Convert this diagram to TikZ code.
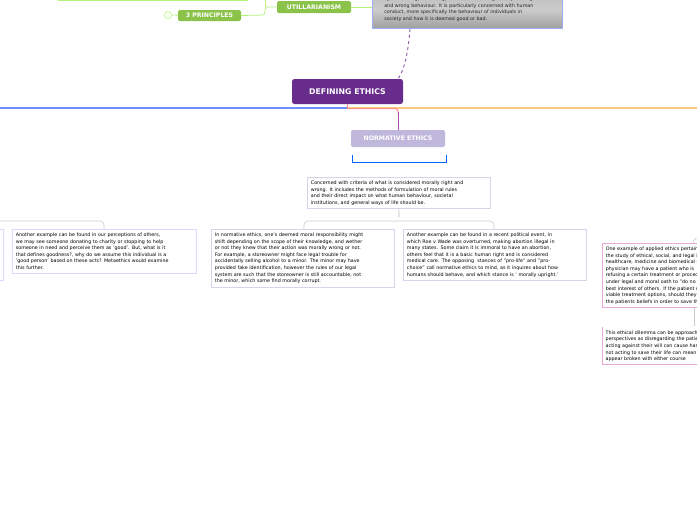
\documentclass[tikz,border=0pt]{standalone}
\usepackage{fontspec}
\setmainfont{DejaVu Sans}
\usetikzlibrary{shadings}
\definecolor{grn}{HTML}{8BC34A}
\definecolor{lgrn}{HTML}{B6F27A}
\definecolor{purp}{HTML}{682C8C}
\definecolor{lav}{HTML}{C0B8DC}
\definecolor{bord}{HTML}{D8D2EA}
\definecolor{pinkb}{HTML}{E8A8DA}
\definecolor{bluel}{HTML}{6E8EF7}
\definecolor{orng}{HTML}{FCC97A}
\tikzset{
 txt/.style={draw=bord,line width=0.8pt,fill=white,align=left,anchor=north west,inner sep=3.5pt,font=\fontsize{4.8}{6.6}\selectfont,text width=#1},
 gbox/.style={fill=grn,rounded corners=1.5pt,text=white,font=\fontsize{6.2}{7}\selectfont\bfseries,inner sep=2.5pt},
}
\begin{document}
\begin{tikzpicture}[x=1pt,y=-1pt]
\useasboundingbox (0,0) rectangle (697,520);
\clip (0,0) rectangle (697,520);
% green top
\draw[lgrn,line width=1.2pt] (58,0) -- (248,0);
\node[gbox,minimum width=63pt,minimum height=11pt] (pr) at (209.5,15.5) {3 PRINCIPLES};
\node[gbox,minimum width=74pt,minimum height=12pt] (ut) at (314,7) {UTILLARIANISM};
\node[draw=lgrn,circle,inner sep=0pt,minimum size=7pt,line width=0.6pt,font=\fontsize{3}{3}\selectfont,text=lgrn] (c3) at (168,15) {3};
\draw[lgrn,line width=0.8pt] (c3) -- (pr);
\draw[lgrn,line width=0.8pt,rounded corners=3pt] (ut.west) -- (265,7) -- (265,15) -- (pr.east);
\draw[lgrn,line width=0.8pt,rounded corners=3pt] (265,7) -- (265,-2);
% top gray box
\node[draw=bluel!70,line width=0.6pt,top color=gray!55,bottom color=gray!75,middle color=gray!40,shading angle=0,anchor=north west,minimum width=190pt,minimum height=38pt,text width=182pt,align=left,inner sep=0pt,font=\fontsize{4.8}{6.7}\selectfont,text=black!85] (tb) at (372,-10) {\hspace*{8pt}systematizing, defending, and recommending concepts of right\\\hspace*{8pt}and wrong behaviour. It is particularly concerned with human\\\hspace*{8pt}conduct, more specifically the behaviour of individuals in\\\hspace*{8pt}society and how it is deemed good or bad.};
\draw[lgrn,line width=0.8pt] (ut.east) -- (372,7);
% defining ethics
\node[fill=purp,rounded corners=2.5pt,text=white,font=\fontsize{7.8}{8}\selectfont\bfseries,minimum width=111pt,minimum height=25pt] (de) at (347.5,91.5) {DEFINING ETHICS};
\draw[purp!80,dashed,line width=0.9pt] (410,29) .. controls (408,55) and (404,70) .. (398,79);
% horizontal lines
\draw[bluel,line width=1.3pt] (0,108) -- (347,108);
\draw[orng,line width=1.3pt] (347,108) -- (697,108);
\draw[red!50,line width=1pt] (347,104) -- (347,108);
\draw[red!45,line width=1pt,rounded corners=3pt] (347,108.5) -- (398,108.5) -- (398,113);
\draw[violet!70,line width=0.8pt,rounded corners=3pt] (398,112) -- (398,130);
% normative
\node[fill=lav,rounded corners=2pt,text=white,font=\fontsize{6.2}{7}\selectfont\bfseries,minimum width=94pt,minimum height=17pt] (ne) at (398,138.5) {NORMATIVE ETHICS};
\draw[blue!60!cyan,line width=0.8pt] (352,155) -- (352,162.5) -- (446,162.5) -- (446,155);
% concerned box
\node[txt=176pt] (cb) at (307,177) {Concerned with criteria of what is considered morally right and\\wrong. It includes the methods of formulation of moral rules\\and their direct impact on what human behaviour, societal\\institutions, and general ways of life should be.};
\draw[gray!60,line width=0.6pt] (cb.south) -- (399,217);
\draw[gray!40,line width=0.6pt,rounded corners=4pt] (304,229) -- (304,221) -- (494,221) -- (494,229);
\node[txt=176pt] (b1) at (211,229) {In normative ethics, one's deemed moral responsibility might\\shift depending on the scope of their knowledge, and wether\\or not they knew that their action was morally wrong or not.\\For example, a storeowner might face legal trouble for\\accidentally selling alcohol to a minor. The minor may have\\provided fake identification, however the rules of our legal\\system are such that the storeowner is still accountable, not\\the minor, which some find morally corrupt.};
\node[txt=176pt] (b2) at (403,229) {Another example can be found in a recent political event, in\\which Roe v Wade was overturned, making abortion illegal in\\many states. Some claim it is immoral to have an abortion,\\others feel that it is a basic human right and is considered\\medical care. The opposing\ \ stances of "pro-life" and "pro-\\choice" call normative ethics to mind, as it inquires about how\\humans should behave, and which stance is ' morally upright.'};
% left
\draw[gray!40,line width=0.6pt,rounded corners=4pt] (0,221) -- (104,221) -- (104,229);
\node[draw=blue!15,line width=0.8pt,fill=white,minimum width=40pt,minimum height=51pt,anchor=north east] (lb) at (4,229) {};
\node[draw=blue!15,line width=0.8pt,fill=white,align=left,anchor=north west,inner sep=3.5pt,font=\fontsize{4.8}{6.6}\selectfont,text width=177pt] (b0) at (12,229) {Another example can be found in our perceptions of others,\\we may see someone donating to charity or stopping to help\\someone in need and perceive them as 'good'. But, what is it\\that defines goodness?, why do we assume this individual is a\\'good person' based on these acts? Metaethics would examine\\this further.};
% right pink
\draw[gray!40,line width=0.6pt,rounded corners=3pt] (693,245) -- (693,240) -- (700,236);
\draw[gray!40,line width=0.6pt] (694,268) -- (694,326);
\node[draw=pinkb,line width=0.7pt,fill=white,align=left,anchor=north west,inner sep=3.5pt,font=\fontsize{4.8}{6.6}\selectfont,text width=160pt] (r1) at (602,243) {One example of applied ethics pertains to\\the study of ethical, social, and legal issues in\\healthcare, medicine and biomedical research. A\\physician may have a patient who is\\refusing a certain treatment or procedure\\under legal and moral oath to "do no harm"\\best interest of others. If the patient refuses\\viable treatment options, should they override\\the patients beliefs in order to save them?};
\node[align=left,anchor=north west,inner sep=3.5pt,font=\fontsize{4.8}{6.6}\selectfont,text width=160pt] (r2) at (602,327) {This ethical dilemma can be approached from\\perspectives as disregarding the patients wishes\\acting against their will can cause harm, while\\not acting to save their life can mean\\appear broken with either course};
\draw[pinkb,line width=0.7pt] (602,327) -- (602,364) -- (697,364);
\end{tikzpicture}
\end{document}
